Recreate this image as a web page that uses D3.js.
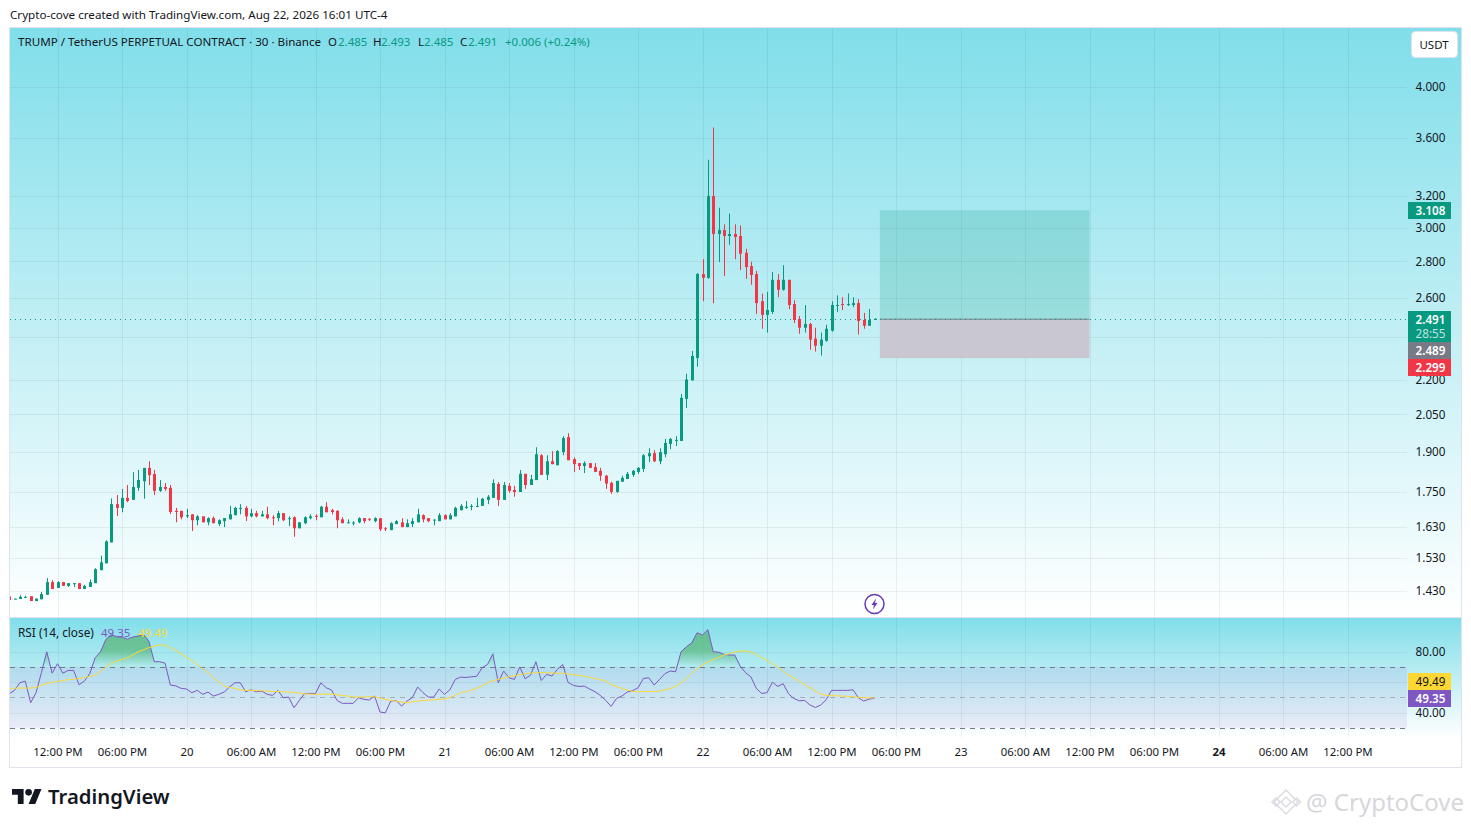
<!DOCTYPE html>
<html>
<head>
<meta charset="utf-8">
<title>TRUMP / USDT</title>
<script src="https://cdn.jsdelivr.net/npm/d3@7"></script>
<style>
  html, body { margin: 0; padding: 0; background: #fff; }
  svg { display: block; }
  text { font-family: "Noto Sans", sans-serif; }
</style>
</head>
<body>
<div id="my_dataviz"></div>
<script>
// bar numbers count half hours from 12:00 PM on the 19th
const firstBar = -9;

const opens = [
  1.414,1.406,1.407,1.411,1.415,1.401,1.406,1.419,1.456,1.439,1.456,1.445,1.451,1.453,1.436,1.442,1.453,1.492,1.513,1.579,
  1.707,1.694,1.729,1.722,1.765,1.789,1.838,1.815,1.754,1.768,1.765,1.684,1.684,1.665,1.672,1.652,1.665,1.645,1.659,1.639,
  1.649,1.655,1.669,1.691,1.694,1.665,1.676,1.665,1.672,1.662,1.659,1.676,1.657,1.662,1.625,1.642,1.659,1.667,1.662,1.698,
  1.686,1.684,1.655,1.642,1.642,1.645,1.659,1.657,1.649,1.659,1.625,1.619,1.639,1.645,1.629,1.639,1.645,1.669,1.659,1.652,
  1.649,1.669,1.655,1.665,1.686,1.694,1.698,1.699,1.701,1.722,1.729,1.779,1.722,1.772,1.757,1.750,1.816,1.775,1.793,1.886,
  1.812,1.863,1.848,1.898,1.957,1.871,1.856,1.845,1.856,1.841,1.827,1.809,1.783,1.750,1.787,1.797,1.812,1.823,1.834,1.882,
  1.894,1.863,1.890,1.930,1.942,1.942,2.116,2.197,2.300,2.729,2.708,3.199,2.961,2.985,2.949,2.961,2.949,2.850,2.774,2.729,
  2.582,2.511,2.526,2.697,2.643,2.697,2.567,2.490,2.446,2.465,2.392,2.358,2.382,2.431,2.557,2.567,2.562,2.562,2.572,2.485,
  2.456,2.485
];
const highs = [
  1.414,1.408,1.418,1.416,1.415,1.408,1.427,1.468,1.462,1.459,1.456,1.453,1.453,1.453,1.448,1.464,1.498,1.537,1.586,1.727,
  1.739,1.761,1.775,1.822,1.830,1.838,1.863,1.830,1.793,1.782,1.775,1.694,1.684,1.691,1.672,1.669,1.665,1.662,1.665,1.655,
  1.659,1.701,1.698,1.707,1.701,1.691,1.684,1.684,1.698,1.669,1.684,1.676,1.665,1.665,1.645,1.665,1.672,1.672,1.701,1.714,
  1.691,1.686,1.662,1.655,1.649,1.662,1.659,1.659,1.662,1.659,1.629,1.645,1.652,1.659,1.655,1.659,1.691,1.672,1.659,1.655,
  1.676,1.672,1.676,1.698,1.707,1.718,1.707,1.729,1.729,1.739,1.796,1.786,1.786,1.782,1.772,1.830,1.816,1.812,1.917,1.890,
  1.886,1.902,1.906,1.961,1.973,1.878,1.856,1.863,1.856,1.856,1.838,1.812,1.787,1.790,1.809,1.823,1.830,1.841,1.890,1.913,
  1.906,1.913,1.950,1.953,1.961,2.137,2.227,2.333,2.735,2.813,3.445,3.680,3.124,3.020,3.087,3.020,3.013,2.873,2.798,2.746,
  2.622,2.632,2.740,2.729,2.779,2.697,2.587,2.505,2.562,2.470,2.446,2.422,2.461,2.582,2.613,2.603,2.623,2.603,2.592,2.521,
  2.541,2.493
];
const lows = [
  1.404,1.406,1.407,1.410,1.401,1.401,1.406,1.419,1.436,1.439,1.445,1.442,1.442,1.436,1.436,1.442,1.453,1.492,1.513,1.579,
  1.666,1.679,1.714,1.722,1.754,1.726,1.775,1.739,1.750,1.754,1.673,1.645,1.655,1.659,1.616,1.635,1.645,1.635,1.642,1.632,
  1.629,1.655,1.669,1.672,1.649,1.662,1.662,1.665,1.655,1.635,1.649,1.649,1.632,1.597,1.625,1.639,1.655,1.652,1.662,1.679,
  1.672,1.625,1.642,1.642,1.635,1.642,1.642,1.649,1.645,1.616,1.616,1.619,1.639,1.629,1.629,1.629,1.645,1.645,1.645,1.635,
  1.649,1.655,1.655,1.665,1.686,1.691,1.686,1.699,1.701,1.707,1.729,1.701,1.722,1.747,1.733,1.750,1.761,1.775,1.793,1.812,
  1.793,1.852,1.848,1.886,1.867,1.823,1.830,1.819,1.838,1.823,1.790,1.761,1.743,1.747,1.787,1.797,1.805,1.816,1.823,1.860,
  1.860,1.852,1.878,1.910,1.922,1.942,2.077,2.197,2.259,2.582,2.702,2.571,2.796,2.718,2.896,2.813,2.751,2.702,2.670,2.516,
  2.441,2.422,2.516,2.603,2.638,2.541,2.470,2.416,2.422,2.339,2.330,2.311,2.377,2.426,2.526,2.536,2.557,2.551,2.412,2.441,
  2.456,2.485
];
const closes = [
  1.404,1.408,1.413,1.413,1.401,1.408,1.421,1.456,1.436,1.456,1.445,1.453,1.453,1.436,1.445,1.456,1.495,1.516,1.582,1.707,
  1.694,1.729,1.718,1.768,1.793,1.838,1.811,1.754,1.768,1.761,1.680,1.680,1.662,1.669,1.652,1.665,1.645,1.659,1.642,1.652,
  1.659,1.672,1.694,1.694,1.665,1.676,1.665,1.672,1.659,1.659,1.676,1.652,1.659,1.625,1.645,1.662,1.665,1.665,1.698,1.679,
  1.680,1.652,1.642,1.645,1.644,1.659,1.649,1.654,1.659,1.622,1.623,1.642,1.649,1.629,1.642,1.649,1.672,1.655,1.649,1.654,
  1.669,1.655,1.669,1.694,1.701,1.698,1.701,1.701,1.726,1.733,1.782,1.722,1.775,1.754,1.750,1.816,1.775,1.796,1.890,1.812,
  1.863,1.852,1.902,1.953,1.867,1.852,1.845,1.856,1.838,1.823,1.809,1.780,1.750,1.790,1.801,1.816,1.827,1.838,1.886,1.894,
  1.863,1.898,1.934,1.950,1.946,2.120,2.201,2.309,2.729,2.708,3.199,2.961,2.985,2.949,2.961,2.943,2.844,2.768,2.724,2.572,
  2.511,2.536,2.697,2.643,2.697,2.562,2.485,2.446,2.465,2.387,2.358,2.387,2.441,2.562,2.562,2.562,2.567,2.572,2.480,2.456,
  2.485,2.491
];
const rsiValues = [
  52.3,54.5,59.5,60.6,46.4,52.9,66.1,79.8,65.8,72.0,65.8,67.6,67.6,58.2,60.6,65.4,75.9,79.8,87.9,91.2,
  89.5,89.5,88.1,89.5,90.1,91.2,86.8,73.3,73.3,72.4,58.0,57.5,55.8,55.4,53.0,54.5,51.9,53.4,50.8,51.9,
  53.4,56.7,59.5,59.5,53.6,54.9,53.6,54.0,51.9,51.2,54.5,49.7,50.1,43.1,47.9,52.5,52.5,52.5,59.5,56.2,
  54.7,47.9,46.0,46.0,46.0,49.7,48.6,48.2,50.8,40.3,39.8,47.5,47.9,44.2,47.5,49.7,56.7,53.0,50.1,50.1,
  55.4,51.9,54.9,61.7,63.2,63.0,63.4,63.7,69.3,71.5,78.5,59.5,67.2,62.8,61.7,69.8,62.1,64.5,73.3,61.0,
  65.0,63.9,68.3,71.5,59.7,57.8,57.1,57.3,55.4,53.6,51.2,47.9,44.0,49.2,50.8,53.4,54.3,56.2,62.3,62.8,
  58.0,61.7,65.4,67.2,66.7,79.8,83.1,85.7,92.3,90.8,94.3,79.8,79.6,78.1,77.7,77.7,70.4,66.1,63.4,55.8,
  52.5,53.0,59.9,57.1,58.9,52.3,49.2,47.7,47.9,44.9,43.3,44.9,48.4,54.5,54.5,54.5,54.5,54.9,49.7,47.5,
  48.8,49.35
];
const rsiMa = [
  55.6,56.0,56.0,56.0,56.0,56.4,58.0,59.1,59.7,60.4,61.0,61.5,61.9,62.3,63.0,63.7,64.5,66.9,69.8,72.2,
  73.5,74.8,75.9,77.7,79.8,81.1,82.5,83.6,84.2,84.2,82.5,80.7,78.5,76.1,74.2,71.5,68.7,66.1,62.8,60.2,
  57.5,56.4,55.8,54.9,54.5,54.5,54.3,54.3,54.0,53.8,53.8,53.6,53.4,53.2,52.7,52.3,52.1,51.9,52.1,52.1,
  52.1,51.6,51.2,50.8,50.3,50.1,50.1,50.3,50.3,49.5,48.6,47.9,47.5,46.8,46.4,47.0,47.5,47.9,48.1,48.4,
  48.6,48.8,49.7,51.2,53.0,53.6,54.7,55.8,57.5,59.5,60.8,61.7,62.6,63.4,64.1,64.8,65.4,65.8,66.1,66.1,
  66.1,65.8,65.8,65.8,65.2,64.8,64.3,63.9,63.0,62.3,61.5,60.6,58.2,57.1,55.8,54.7,53.8,53.6,53.6,53.8,
  53.8,54.0,54.9,55.8,56.9,59.5,62.1,65.8,68.7,71.3,73.1,74.8,76.1,77.7,78.7,79.6,80.3,80.3,79.6,78.1,
  75.9,74.2,72.0,69.8,66.9,64.5,62.8,60.6,58.2,56.2,54.0,52.1,51.2,51.0,51.0,50.8,50.6,50.3,49.9,49.7,
  49.7,49.49
];

const priceTicks = [4.0, 3.6, 3.2, 3.0, 2.8, 2.6, 2.4, 2.2, 2.05, 1.9, 1.75, 1.63, 1.53, 1.43];
const hiddenPriceTicks = [2.4]; // covered by the price tags
const rsiTicks = [80, 60, 40];
const rsiLabelTicks = [80, 40];
const rsiLevels = [70, 50, 30];
const timeLabels = [
  '12:00 PM', '06:00 PM', '20', '06:00 AM', '12:00 PM', '06:00 PM', '21',
  '06:00 AM', '12:00 PM', '06:00 PM', '22', '06:00 AM', '12:00 PM', '06:00 PM', '23',
  '06:00 AM', '12:00 PM', '06:00 PM', '24', '06:00 AM', '12:00 PM',
];
const barsPerLabel = 12;

const lastPrice = 2.491;
const entryPrice = 2.489;
const targetPrice = 3.108;
const stopPrice = 2.299;
const positionBars = [153, 192]; // left and right edge of the long position tool

const GREEN = '#089981';
const RED = '#f23645';
const PURPLE = '#7e57c2';
const YELLOW = '#fdd835';
const INK = '#131722';

const size = {
  width: 1471,
  height: 827,
  left: 10,
  right: 1461,
  plotRight: 1407,
  top: 27,
  paneBottom: 617,
  rsiTop: 618,
  rsiBottom: 737,
  bottom: 767,
};

const bars = opens.map((o, i) => ({
  bar: firstBar + i,
  o,
  h: highs[i],
  l: lows[i],
  c: closes[i],
  rsi: rsiValues[i],
  ma: rsiMa[i],
}));

const x = d3.scaleLinear().domain([0, barsPerLabel]).range([57.5, 122]);
const y = d3.scaleLog().domain([4, 1.43]).range([86.5, 591]);
const yRsi = d3.scaleLinear().domain([80, 40]).range([651.5, 712.5]);

const svg = d3
  .select('#my_dataviz')
  .append('svg')
  .attr('width', size.width)
  .attr('height', size.height);

const defs = svg.append('defs');

const addBackGradient = (id, from, to) => {
  const g = defs
    .append('linearGradient')
    .attr('id', id)
    .attr('gradientUnits', 'userSpaceOnUse')
    .attr('x1', 0)
    .attr('x2', 0)
    .attr('y1', from)
    .attr('y2', to);
  g.append('stop').attr('offset', 0).attr('stop-color', '#80deea');
  g.append('stop').attr('offset', 1).attr('stop-color', '#ffffff');
};
addBackGradient('backMain', size.top, size.paneBottom);
addBackGradient('backRsi', size.rsiTop, size.rsiBottom);

const obGradient = defs
  .append('linearGradient')
  .attr('id', 'obFill')
  .attr('gradientUnits', 'userSpaceOnUse')
  .attr('x1', 0)
  .attr('x2', 0)
  .attr('y1', yRsi(88))
  .attr('y2', yRsi(70));
obGradient.append('stop').attr('offset', 0).attr('stop-color', '#5cb97f').attr('stop-opacity', 0.8);
obGradient.append('stop').attr('offset', 0.4).attr('stop-color', '#5cb97f').attr('stop-opacity', 0.75);
obGradient.append('stop').attr('offset', 1).attr('stop-color', '#5cb97f').attr('stop-opacity', 0);

defs
  .append('clipPath')
  .attr('id', 'clipPlot')
  .append('rect')
  .attr('x', size.left)
  .attr('y', size.top)
  .attr('width', size.plotRight - size.left)
  .attr('height', size.rsiBottom - size.top);
defs
  .append('clipPath')
  .attr('id', 'clipOb')
  .append('rect')
  .attr('x', size.left)
  .attr('y', size.rsiTop)
  .attr('width', size.plotRight - size.left)
  .attr('height', yRsi(70) - size.rsiTop);

// backgrounds
svg
  .append('rect')
  .attr('x', size.left)
  .attr('y', size.top)
  .attr('width', size.right - size.left)
  .attr('height', size.paneBottom - size.top)
  .attr('fill', 'url(#backMain)');
svg
  .append('rect')
  .attr('x', size.left)
  .attr('y', size.rsiTop)
  .attr('width', size.right - size.left)
  .attr('height', size.rsiBottom - size.rsiTop)
  .attr('fill', 'url(#backRsi)');

// grid
const timeTickBars = timeLabels.map((d, i) => i * barsPerLabel);
const grid = svg.append('g').attr('stroke', 'rgba(42,46,57,0.07)').attr('fill', 'none');
grid
  .selectAll('line.v')
  .data(timeTickBars)
  .join('line')
  .attr('class', 'v')
  .attr('x1', (d) => Math.round(x(d)) + 0.5)
  .attr('x2', (d) => Math.round(x(d)) + 0.5)
  .attr('y1', size.top)
  .attr('y2', size.rsiBottom);
grid
  .selectAll('line.h')
  .data(priceTicks)
  .join('line')
  .attr('class', 'h')
  .attr('x1', size.left)
  .attr('x2', size.plotRight)
  .attr('y1', (d) => Math.round(y(d)) + 0.5)
  .attr('y2', (d) => Math.round(y(d)) + 0.5);
grid
  .selectAll('line.r')
  .data(rsiTicks)
  .join('line')
  .attr('class', 'r')
  .attr('x1', size.left)
  .attr('x2', size.plotRight)
  .attr('y1', (d) => Math.round(yRsi(d)) + 0.5)
  .attr('y2', (d) => Math.round(yRsi(d)) + 0.5);

// long position tool
const boxLeft = x(positionBars[0]);
const boxWidth = x(positionBars[1]) - boxLeft;
svg
  .append('rect')
  .attr('x', boxLeft)
  .attr('y', y(targetPrice))
  .attr('width', boxWidth)
  .attr('height', y(entryPrice) - y(targetPrice))
  .attr('fill', GREEN)
  .attr('fill-opacity', 0.2);
svg
  .append('rect')
  .attr('x', boxLeft)
  .attr('y', y(entryPrice))
  .attr('width', boxWidth)
  .attr('height', y(stopPrice) - y(entryPrice))
  .attr('fill', '#c9c8d2');
svg
  .append('line')
  .attr('x1', boxLeft)
  .attr('x2', boxLeft + boxWidth)
  .attr('y1', y(entryPrice))
  .attr('y2', y(entryPrice))
  .attr('stroke', '#787b86');

// last price line
svg
  .append('line')
  .attr('x1', size.left)
  .attr('x2', size.plotRight)
  .attr('y1', Math.round(y(lastPrice)) + 0.5)
  .attr('y2', Math.round(y(lastPrice)) + 0.5)
  .attr('stroke', GREEN)
  .attr('stroke-dasharray', '1 4');

// candles
const candles = svg
  .append('g')
  .attr('clip-path', 'url(#clipPlot)')
  .selectAll('g')
  .data(bars)
  .join('g')
  .attr('fill', (d) => (d.c >= d.o ? GREEN : RED));
candles
  .append('rect')
  .attr('x', (d) => Math.round(x(d.bar)))
  .attr('width', 1)
  .attr('y', (d) => y(d.h))
  .attr('height', (d) => y(d.l) - y(d.h));
candles
  .append('rect')
  .attr('x', (d) => Math.round(x(d.bar)) - 1)
  .attr('width', 3)
  .attr('y', (d) => y(Math.max(d.o, d.c)))
  .attr('height', (d) => Math.max(1, Math.abs(y(d.o) - y(d.c))));

// rsi pane
svg
  .append('rect')
  .attr('x', size.left)
  .attr('y', yRsi(70))
  .attr('width', size.plotRight - size.left)
  .attr('height', yRsi(30) - yRsi(70))
  .attr('fill', PURPLE)
  .attr('fill-opacity', 0.1);
svg
  .selectAll('line.level')
  .data(rsiLevels)
  .join('line')
  .attr('class', 'level')
  .attr('x1', size.left)
  .attr('x2', size.plotRight)
  .attr('y1', (d) => Math.round(yRsi(d)) + 0.5)
  .attr('y2', (d) => Math.round(yRsi(d)) + 0.5)
  .attr('stroke', '#787b86')
  .attr('stroke-opacity', (d) => (d === 50 ? 0.5 : 1))
  .attr('stroke-dasharray', '5 5');

svg
  .append('path')
  .datum(bars)
  .attr('clip-path', 'url(#clipOb)')
  .attr('fill', 'url(#obFill)')
  .attr(
    'd',
    d3
      .area()
      .x((d) => x(d.bar))
      .y0(yRsi(70))
      .y1((d) => yRsi(d.rsi)),
  );
const line = (key) =>
  d3
    .line()
    .x((d) => x(d.bar))
    .y((d) => yRsi(d[key]));
svg
  .append('path')
  .datum(bars)
  .attr('clip-path', 'url(#clipPlot)')
  .attr('fill', 'none')
  .attr('stroke', PURPLE)
  .attr('stroke-width', 1)
  .attr('d', line('rsi'));
svg
  .append('path')
  .datum(bars)
  .attr('clip-path', 'url(#clipPlot)')
  .attr('fill', 'none')
  .attr('stroke', YELLOW)
  .attr('stroke-width', 1)
  .attr('d', line('ma'));

// axes
const priceAxis = svg
  .append('g')
  .attr('transform', 'translate(1430.5,0)')
  .call(
    d3
      .axisRight(y)
      .tickValues(priceTicks.filter((d) => !hiddenPriceTicks.includes(d)))
      .tickFormat(d3.format('.3f'))
      .tickSize(0)
      .tickPadding(0),
  );
const rsiAxis = svg
  .append('g')
  .attr('transform', 'translate(1430.5,0)')
  .call(
    d3
      .axisRight(yRsi)
      .tickValues(rsiLabelTicks)
      .tickFormat(d3.format('.2f'))
      .tickSize(0)
      .tickPadding(0),
  );
[priceAxis, rsiAxis].forEach((axis) => {
  axis.select('.domain').remove();
  axis
    .selectAll('text')
    .attr('text-anchor', 'middle')
    .attr('font-size', 11.7)
    .attr('font-family', '"Noto Sans", sans-serif')
    .attr('fill', INK);
});
const timeAxis = svg
  .append('g')
  .attr('transform', `translate(0,${size.rsiBottom + 11})`)
  .call(
    d3
      .axisBottom(x)
      .tickValues(timeTickBars)
      .tickFormat((d, i) => timeLabels[i])
      .tickSize(0)
      .tickPadding(0),
  );
timeAxis.select('.domain').remove();
timeAxis
  .selectAll('text')
  .attr('font-size', 11.4)
  .attr('font-family', '"Noto Sans", sans-serif')
  .attr('fill', INK)
  .attr('font-weight', (d, i) => (timeLabels[i] === '24' ? 700 : 400));

// frame and pane divider
svg
  .append('rect')
  .attr('x', size.left - 0.5)
  .attr('y', size.top + 0.5)
  .attr('width', size.right - size.left + 1)
  .attr('height', size.bottom - size.top)
  .attr('fill', 'none')
  .attr('stroke', '#e0e3eb');
svg
  .append('line')
  .attr('x1', size.left)
  .attr('x2', size.right)
  .attr('y1', size.paneBottom + 0.5)
  .attr('y2', size.paneBottom + 0.5)
  .attr('stroke', '#e0e3eb');

// price tags
const tags = [
  { top: 202, h: 17, fill: GREEN, label: targetPrice.toFixed(3), color: '#fff', ty: 210.5 },
  { top: 311, h: 31, fill: GREEN, label: lastPrice.toFixed(3), color: '#fff', ty: 319.5 },
  { top: 342, h: 17, fill: '#787b86', label: entryPrice.toFixed(3), color: '#fff', ty: 350.5 },
  { top: 359, h: 17, fill: RED, label: stopPrice.toFixed(3), color: '#fff', ty: 367.5 },
  { top: 673, h: 17, fill: YELLOW, label: rsiMa[rsiMa.length - 1].toFixed(2), color: INK, ty: 681.5 },
  { top: 690, h: 17, fill: PURPLE, label: rsiValues[rsiValues.length - 1].toFixed(2), color: '#fff', ty: 698.5 },
];
const tag = svg.selectAll('g.tag').data(tags).join('g').attr('class', 'tag');
tag
  .append('rect')
  .attr('x', 1408)
  .attr('y', (d) => d.top)
  .attr('width', 43)
  .attr('height', (d) => d.h)
  .attr('fill', (d) => d.fill);
tag
  .append('text')
  .attr('x', 1430.5)
  .attr('y', (d) => d.ty)
  .attr('dy', '0.35em')
  .attr('text-anchor', 'middle')
  .attr('font-size', 11.7)
  .attr('font-weight', (d) => (d.color === '#fff' ? 600 : 400))
  .attr('fill', (d) => d.color)
  .text((d) => d.label);
svg
  .append('text')
  .attr('x', 1430.5)
  .attr('y', 333.5)
  .attr('dy', '0.35em')
  .attr('text-anchor', 'middle')
  .attr('font-size', 11.7)
  .attr('fill', '#fff')
  .attr('fill-opacity', 0.75)
  .text('28:55');

// currency button
svg
  .append('rect')
  .attr('x', 1411.5)
  .attr('y', 31.5)
  .attr('width', 46)
  .attr('height', 26)
  .attr('rx', 4)
  .attr('fill', '#fff')
  .attr('stroke', '#e0e3eb');
svg
  .append('text')
  .attr('x', 1434)
  .attr('y', 44.5)
  .attr('dy', '0.35em')
  .attr('text-anchor', 'middle')
  .attr('font-size', 11.5)
  .attr('fill', INK)
  .text('USDT');

// header texts
const addText = (parent, tx, ty, str, fs, fill) =>
  parent
    .append('text')
    .attr('x', tx)
    .attr('y', ty)
    .attr('dy', '0.35em')
    .attr('font-size', fs)
    .attr('fill', fill)
    .text(str);

addText(svg, 10, 15, 'Crypto-cove created with TradingView.com, Aug 22, 2026 16:01 UTC-4', 11.65, INK);
addText(svg, 18, 42, 'TRUMP / TetherUS PERPETUAL CONTRACT · 30 · Binance', 11.62, INK);

const ohlcLegend = [
  [328, 'O', INK],
  [338, opens[opens.length - 1].toFixed(3), GREEN],
  [373, 'H', INK],
  [381, highs[highs.length - 1].toFixed(3), GREEN],
  [418, 'L', INK],
  [424, lows[lows.length - 1].toFixed(3), GREEN],
  [460, 'C', INK],
  [468, closes[closes.length - 1].toFixed(3), GREEN],
  [505, '+0.006 (+0.24%)', GREEN],
];
ohlcLegend.forEach(([tx, str, fill]) => addText(svg, tx, 42, str, 11.5, fill));

addText(svg, 18, 633, 'RSI (14, close)', 11.8, INK);
addText(svg, 101, 633, rsiValues[rsiValues.length - 1].toFixed(2), 11.5, PURPLE);
addText(svg, 138, 633, rsiMa[rsiMa.length - 1].toFixed(2), 11.5, YELLOW);

// lightning badge
const badge = svg.append('g').attr('transform', 'translate(874.5,604)');
badge
  .append('circle')
  .attr('r', 9.5)
  .attr('fill', '#fff')
  .attr('fill-opacity', 0.6)
  .attr('stroke', '#673ab7')
  .attr('stroke-width', 1.5);
badge.append('path').attr('d', 'M1.5 -5.5 L-3 1 L-0.5 1 L-1.5 5.5 L3 -1 L0.5 -1 Z').attr('fill', '#673ab7');

// logo and watermark
svg
  .append('path')
  .attr('transform', 'translate(12,785.7) scale(0.83)')
  .attr('d', 'M14 22H7V11H0V4h14v18zM28 22h-8l7.5-18h8L28 22z')
  .attr('fill', INK);
svg.append('circle').attr('cx', 12 + 20 * 0.83).attr('cy', 785.7 + 8 * 0.83).attr('r', 3.3).attr('fill', INK);
svg
  .append('text')
  .attr('x', 48)
  .attr('y', 797)
  .attr('dy', '0.35em')
  .attr('font-size', 20.3)
  .attr('font-weight', 600)
  .attr('fill', INK)
  .text('TradingView');

const mark = svg.append('g').attr('fill', 'none').attr('stroke', '#dcdde0').attr('stroke-width', 1.5);
[[1286, 802, 12], [1276, 802, 4], [1296.5, 802, 4], [1286, 802, 5]].forEach(([cx, cy, r]) => {
  mark
    .append('path')
    .attr('d', `M${cx} ${cy - r}L${cx + r} ${cy}L${cx} ${cy + r}L${cx - r} ${cy}Z`);
});
svg
  .append('text')
  .attr('x', 1306)
  .attr('y', 803)
  .attr('dy', '0.35em')
  .attr('font-size', 24)
  .attr('fill', '#d6d7da')
  .text('@ CryptoCove');
</script>
</body>
</html>
